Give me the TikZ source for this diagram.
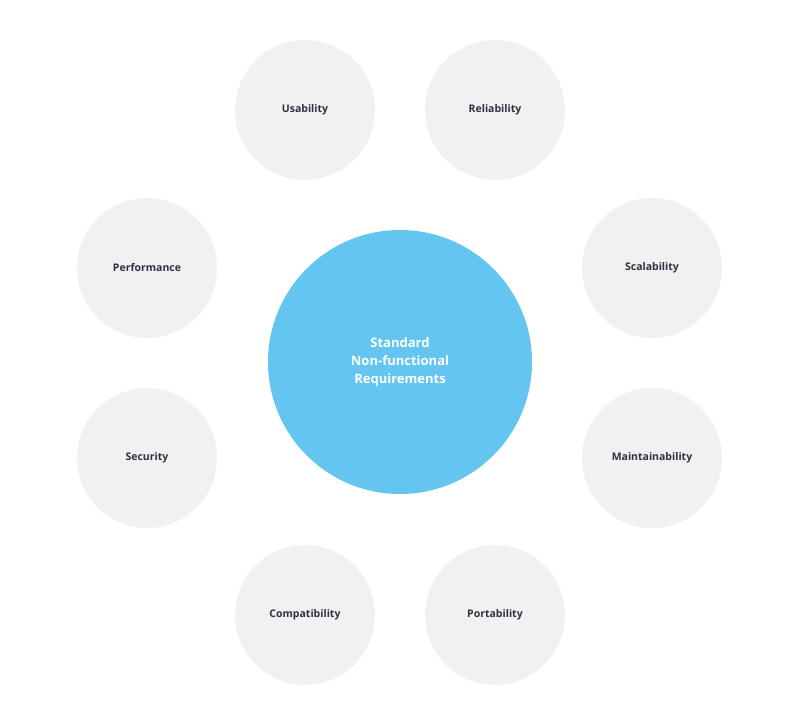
\documentclass[tikz,border=0pt]{standalone}
\usepackage{fontspec}
\setmainfont{Open Sans}
\definecolor{hubblue}{HTML}{63C5F0}
\definecolor{leafgrey}{HTML}{F1F1F2}
\definecolor{labeltext}{HTML}{2E3140}
\begin{document}
\begin{tikzpicture}[x=1pt,y=-1pt,
  leaf/.style={circle,fill=leafgrey,minimum size=140pt,inner sep=0pt,
    text=labeltext,font=\bfseries\fontsize{10.5}{12}\selectfont},
  hub/.style={circle,fill=hubblue,minimum size=264pt,inner sep=0pt,
    text=white,align=center,font=\bfseries\fontsize{13}{18}\selectfont}]

  \useasboundingbox (0,0) rectangle (800,726);

  %% centre
  \node[hub] (nfr) at (400,362) {Standard\\Non-functional\\Requirements};

  %% requirements
  \node[leaf] (usab)  at (305,110) {Usability};
  \node[leaf] (relia) at (495,110) {Reliability};
  \node[leaf] (perf)  at (147,268) {Performance};
  \node[leaf] (scal)  at (652,268) {Scalability};
  \node[leaf] (secu)  at (147,458) {Security};
  \node[leaf] (maint) at (652,458) {Maintainability};
  \node[leaf] (compa) at (305,615) {Compatibility};
  \node[leaf] (port)  at (495,615) {Portability};

\end{tikzpicture}
\end{document}
